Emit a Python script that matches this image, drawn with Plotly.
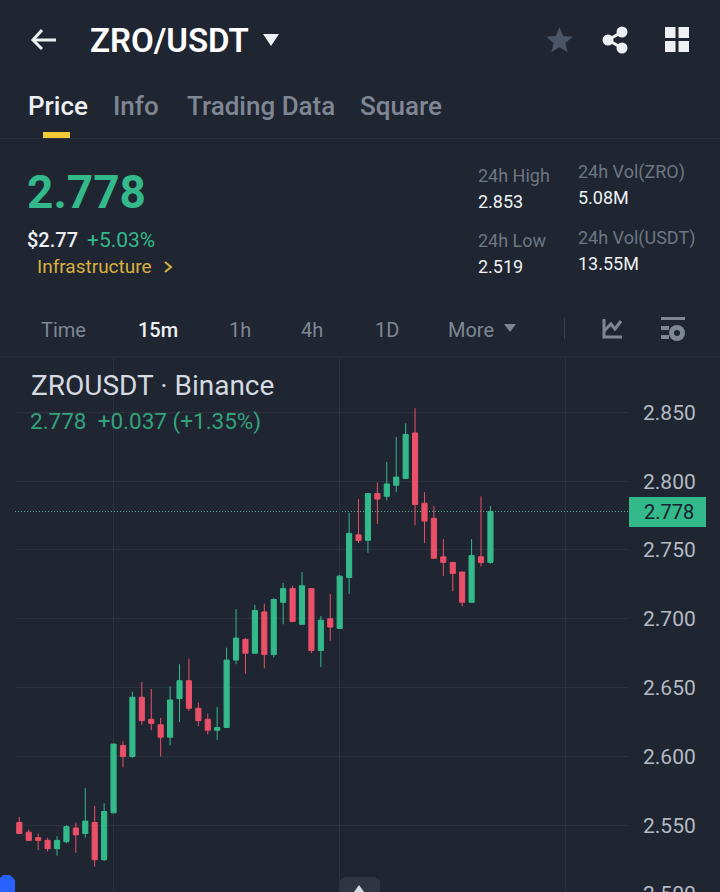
import math
import plotly.graph_objects as go

W = 720
H = 892
BG = "#1f2531"
GREEN = "#34b98a"
RED = "#ea5068"
GRID = "#2b323d"
MUTED = "#7f8794"
DIM = "#6e7682"
WHITE = "#eef0f3"
FONT = "Roboto"

# 15m candles
bars = list(range(51))
opens = [2.552, 2.545, 2.541, 2.539, 2.533, 2.538, 2.548, 2.544, 2.552, 2.525,
         2.559, 2.608, 2.600, 2.643, 2.627, 2.623, 2.614, 2.642, 2.655, 2.635,
         2.627, 2.619, 2.621, 2.670, 2.685, 2.675, 2.705, 2.674, 2.712, 2.722,
         2.696, 2.722, 2.677, 2.700, 2.693, 2.730, 2.761, 2.757, 2.791, 2.789,
         2.797, 2.802, 2.835, 2.784, 2.773, 2.745, 2.741, 2.734, 2.712, 2.745, 2.741]
highs = [2.556, 2.547, 2.544, 2.541, 2.542, 2.550, 2.552, 2.577, 2.564, 2.566,
         2.609, 2.611, 2.647, 2.654, 2.649, 2.628, 2.651, 2.667, 2.671, 2.639,
         2.631, 2.636, 2.679, 2.707, 2.686, 2.710, 2.711, 2.715, 2.726, 2.724,
         2.734, 2.722, 2.702, 2.718, 2.732, 2.777, 2.787, 2.791, 2.799, 2.814,
         2.832, 2.842, 2.853, 2.792, 2.782, 2.758, 2.741, 2.734, 2.758, 2.789, 2.782]
lows = [2.544, 2.539, 2.532, 2.531, 2.528, 2.537, 2.530, 2.541, 2.520, 2.524,
        2.559, 2.592, 2.599, 2.623, 2.619, 2.600, 2.608, 2.625, 2.633, 2.622,
        2.616, 2.612, 2.621, 2.667, 2.660, 2.675, 2.664, 2.672, 2.696, 2.698,
        2.696, 2.675, 2.665, 2.684, 2.693, 2.718, 2.755, 2.748, 2.769, 2.786,
        2.792, 2.802, 2.768, 2.755, 2.744, 2.731, 2.720, 2.709, 2.712, 2.738, 2.740]
closes = [2.544, 2.539, 2.539, 2.533, 2.539, 2.549, 2.543, 2.553, 2.525, 2.560,
          2.609, 2.600, 2.643, 2.626, 2.624, 2.614, 2.641, 2.655, 2.635, 2.626,
          2.619, 2.621, 2.670, 2.686, 2.675, 2.706, 2.674, 2.714, 2.722, 2.698,
          2.724, 2.677, 2.699, 2.694, 2.731, 2.762, 2.757, 2.791, 2.787, 2.798,
          2.803, 2.834, 2.783, 2.771, 2.744, 2.741, 2.733, 2.712, 2.746, 2.741, 2.778]

price_ticks = [2.55, 2.6, 2.65, 2.7, 2.75, 2.8, 2.85]
price_labels = ["2.550", "2.600", "2.650", "2.700", "2.750", "2.800", "2.850"]
time_ticks = [10, 34, 58]

tabs = [("Price", 28, "#eef0f3", 500), ("Info", 113, MUTED, 500),
        ("Trading Data", 187, MUTED, 500), ("Square", 360, MUTED, 500)]
intervals = [("Time", 41, MUTED, 400), ("15m", 138, WHITE, 500), ("1h", 229, MUTED, 400),
             ("4h", 301, MUTED, 400), ("1D", 375, MUTED, 400), ("More", 448, MUTED, 400)]
stats = [("24h High", 478, 175, DIM), ("2.853", 478, 201, WHITE),
         ("24h Low", 478, 241, DIM), ("2.519", 478, 267, WHITE),
         ("24h Vol(ZRO)", 578, 172, DIM), ("5.08M", 578, 198, WHITE),
         ("24h Vol(USDT)", 578, 238, DIM), ("13.55M", 578, 264, WHITE)]


def px(x):
    return x / W


def py(y):
    return 1 - y / H


def path(points, close=True):
    s = "M " + " L ".join(f"{px(x):.5f} {py(y):.5f}" for x, y in points)
    return s + " Z" if close else s


fig = go.Figure()
fig.add_trace(go.Candlestick(
    x=bars, open=opens, high=highs, low=lows, close=closes,
    increasing=dict(line=dict(color=GREEN, width=1), fillcolor=GREEN),
    decreasing=dict(line=dict(color=RED, width=1), fillcolor=RED),
    whiskerwidth=0, showlegend=False, hoverinfo="skip",
))


def text(x, y, s, size, color, weight=400, anchor="left"):
    # annotations keep about a pixel of padding on the left
    if anchor == "left":
        x = x - 1
    fig.add_annotation(xref="paper", yref="paper", x=px(x), y=py(y), text=s, showarrow=False,
                       xanchor=anchor, yanchor="middle", borderpad=0,
                       font=dict(family=FONT, size=size, color=color, weight=weight))


def solid(points, color):
    fig.add_shape(type="path", xref="paper", yref="paper", path=path(points),
                  fillcolor=color, line=dict(width=0), layer="above")


def stroke(points, color, width):
    fig.add_shape(type="path", xref="paper", yref="paper", path=path(points, close=False),
                  line=dict(color=color, width=width), layer="above")


def rect(x0, y0, x1, y1, color):
    fig.add_shape(type="rect", xref="paper", yref="paper", x0=px(x0), x1=px(x1), y0=py(y0), y1=py(y1),
                  fillcolor=color, line=dict(width=0), layer="above")


def dot(cx, cy, r, color):
    fig.add_shape(type="circle", xref="paper", yref="paper", x0=px(cx - r), x1=px(cx + r),
                  y0=py(cy - r), y1=py(cy + r), fillcolor=color, line=dict(width=0), layer="above")


# header
stroke([(56, 40), (33, 40)], WHITE, 3)
stroke([(42, 30), (33, 40), (42, 49)], WHITE, 3)
text(90, 41, "ZRO/USDT", 33, "#ffffff", 600)
solid([(263, 34), (279, 34), (271, 46)], WHITE)
star = []
for i in range(10):
    r = 14 if i % 2 == 0 else 6.2
    a = -math.pi / 2 + i * math.pi / 5
    star.append((559.5 + r * math.cos(a), 41 + r * math.sin(a)))
solid(star, "#4a5567")
stroke([(622, 32), (608, 40), (622, 48)], WHITE, 3)
dot(622, 32, 5.5, WHITE)
dot(608, 40, 5.5, WHITE)
dot(622, 48, 5.5, WHITE)
rect(665, 27, 675.5, 38, WHITE)
rect(678.5, 27, 689, 38, WHITE)
rect(665, 41, 675.5, 52, WHITE)
rect(678.5, 41, 689, 52, WHITE)

for label, x, color, weight in tabs:
    text(x, 106, label, 26, color, weight)
rect(43, 132, 70, 138, "#f0cb35")
rect(0, 138, W, 139, "#2b323d")

# price block
text(27, 192, "2.778", 46, GREEN, 700)
text(27, 240, "$2.77", 20, WHITE, 500)
text(87, 240, "+5.03%", 21, GREEN, 400)
text(37, 267, "Infrastructure", 19, "#d8b13f", 400)
stroke([(165, 262), (171, 267), (165, 272)], "#d8b13f", 2)
for label, x, y, color in stats:
    text(x, y, label, 18, color)

# interval row
for label, x, color, weight in intervals:
    text(x, 330, label, 20, color, weight)
solid([(504, 324), (516, 324), (510, 332)], MUTED)
rect(564, 318, 565, 339, "#39404c")
stroke([(604, 319), (604, 337), (622, 337)], MUTED, 3)
stroke([(604, 331), (611, 324), (615, 329), (621, 321)], MUTED, 3)
rect(661, 317, 685, 320, MUTED)
rect(661, 326, 669, 330, MUTED)
rect(661, 335, 669, 339, MUTED)
dot(677, 333, 8, MUTED)
dot(677, 333, 3, BG)
rect(0, 356, W, 358, "#272d38")

# chart legend
text(31, 385, "ZROUSDT · Binance", 28, "#d5d9e0")
text(30, 422, "2.778&nbsp;&nbsp;+0.037 (+1.35%)", 22.5, "#32a27c")

# last price line and tag
fig.add_shape(type="line", xref="x", yref="y", x0=-0.46, x1=64.6, y0=closes[-1], y1=closes[-1],
              line=dict(color="#5fae98", width=1, dash="1px,2px"), layer="below")
rect(629, 497, 706, 527, GREEN)
text(668.5, 512, f"{closes[-1]:.3f}", 20, "#15202a", 400, "center")
text(643, 894, "2.500", 21, "#b4bac4")

# bottom widgets
fig.add_shape(type="path", xref="paper", yref="paper", fillcolor="#2962ff", line=dict(width=0),
              path=path([(-2, 893), (-2, 880), (3, 875), (10, 875), (15, 880), (15, 893)]))
fig.add_shape(type="path", xref="paper", yref="paper", fillcolor="#2f3641", line=dict(width=0),
              path=path([(340, 893), (340, 881), (345, 877), (375, 877), (380, 881), (380, 893)]))
solid([(359, 885), (354, 892), (364, 892)], "#d5d9e0")

fig.update_layout(
    width=W, height=H,
    paper_bgcolor=BG, plot_bgcolor=BG,
    margin=dict(l=0, r=0, t=0, b=0),
    showlegend=False,
    boxgap=0.22,
    xaxis=dict(
        domain=[15 / W, 628 / W], range=[-0.46, 64.6], rangeslider=dict(visible=False),
        tickmode="array", tickvals=time_ticks, showticklabels=False, ticks="",
        showgrid=True, gridcolor=GRID, gridwidth=1, zeroline=False, showline=False,
    ),
    yaxis=dict(
        domain=[0, (H - 358) / H], range=[2.5015, 2.8895], side="right",
        tickmode="array", tickvals=price_ticks, ticktext=price_labels, ticks="",
        ticklabelstandoff=14, automargin=False,
        tickfont=dict(family=FONT, size=21, color="#b4bac4"),
        showgrid=True, gridcolor=GRID, gridwidth=1, zeroline=False, showline=False,
    ),
)

# default page has a body margin, the chart has to sit flush with the window
fig.write_html("out.html", config=dict(displayModeBar=False),
               post_script="document.body.style.margin='0';document.body.style.overflow='hidden';")
